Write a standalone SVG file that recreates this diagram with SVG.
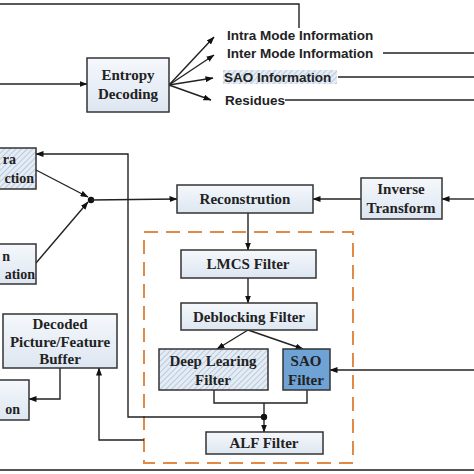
<svg xmlns="http://www.w3.org/2000/svg" width="474" height="474" viewBox="0 0 474 474">
<defs>
<linearGradient id="g" x1="0" y1="0" x2="0" y2="1">
<stop offset="0" stop-color="#F5F8FC"/>
<stop offset="1" stop-color="#DDE6F1"/>
</linearGradient>
<pattern id="hatch" width="4" height="4" patternUnits="userSpaceOnUse" patternTransform="rotate(45)">
<rect width="4" height="4" fill="#E4ECF5"/>
<line x1="0" y1="0" x2="0" y2="4" stroke="#9FB2C8" stroke-width="1.2"/>
</pattern>
<marker id="ah" markerWidth="8" markerHeight="6" refX="7.5" refY="3" orient="auto" markerUnits="userSpaceOnUse">
<path d="M0,0 L8,3 L0,6 z" fill="#111"/>
</marker>
<style>
.box{fill:url(#g);stroke:#333;stroke-width:1.5}
.hb{fill:url(#hatch);stroke:#333;stroke-width:1.5}
.t{font-family:"Liberation Serif","Times New Roman",serif;font-weight:bold;font-size:15px;fill:#222;text-anchor:middle}
.te{font-family:"Liberation Serif","Times New Roman",serif;font-weight:bold;font-size:14px;fill:#222;text-anchor:end}
.s{font-family:"Liberation Sans",Arial,sans-serif;font-weight:bold;font-size:13.5px;fill:#222}
.c{fill:none;stroke:#222;stroke-width:1.4}
.a{fill:none;stroke:#222;stroke-width:1.4;marker-end:url(#ah)}
</style>
</defs>
<rect width="474" height="474" fill="#fff"/>
<line x1="0" y1="470" x2="474" y2="470" stroke="#555" stroke-width="2"/>
<g id="group">
<rect x="144" y="232" width="209" height="231" fill="none" stroke="#E08A48" stroke-width="2" stroke-dasharray="14,8"/>
</g>
<g id="connectors">
<polyline class="c" points="0,4 299,4 299,28"/>
<line class="a" x1="0" y1="84" x2="87" y2="84"/>
<line class="a" x1="169" y1="85" x2="214" y2="37"/>
<line class="a" x1="169" y1="85" x2="214" y2="55"/>
<line class="a" x1="169" y1="85" x2="213" y2="78"/>
<line class="a" x1="169" y1="85" x2="211" y2="100"/>
<line class="c" x1="383" y1="53" x2="474" y2="53"/>
<line class="c" x1="338" y1="77" x2="474" y2="77"/>
<line class="c" x1="285" y1="100" x2="474" y2="100"/>
<polyline class="a" points="264,417 128,417 128,154 36,154"/>
<line class="a" x1="36" y1="170" x2="88" y2="197"/>
<line class="a" x1="36" y1="263" x2="88" y2="202"/>
<circle cx="91" cy="200" r="3.2" fill="#111"/>
<line class="a" x1="91" y1="200" x2="177" y2="199"/>
<line class="a" x1="474" y1="199" x2="442" y2="199"/>
<line class="a" x1="361" y1="199" x2="313" y2="199"/>
<line class="a" x1="248" y1="213" x2="248" y2="250"/>
<line class="a" x1="248" y1="278" x2="248" y2="303"/>
<line class="a" x1="248" y1="330" x2="217" y2="349"/>
<line class="a" x1="248" y1="330" x2="303" y2="349"/>
<polyline class="c" points="214,390 214,403 307,403 307,390"/>
<line class="a" x1="264" y1="403" x2="264" y2="432"/>
<circle cx="264" cy="417" r="3.2" fill="#111"/>
<line class="a" x1="474" y1="370" x2="330" y2="370"/>
<polyline class="a" points="144,440 99,440 99,368"/>
<polyline class="a" points="60,368 60,399 29,399"/>
</g>
<g id="entropy"><rect class="box" x="87" y="58" width="82" height="54"/><text class="t" x="128" y="80">Entropy</text><text class="t" x="128" y="99">Decoding</text></g>
<g id="labels">
<text class="s" x="227" y="40">Intra Mode Information</text>
<text class="s" x="227" y="58">Inter Mode Information</text>
<rect x="223" y="70" width="114" height="14" fill="url(#hatch)"/>
<text class="s" x="224" y="82">SAO Information</text>
<text class="s" x="225" y="105">Residues</text>
</g>
<g id="intra"><rect class="hb" x="-10" y="148" width="46" height="41"/><text class="te" x="16" y="164">ra</text><text class="te" x="34" y="183">ction</text></g>
<g id="inter"><rect class="box" x="-10" y="244" width="46" height="40"/><text class="te" x="10" y="261">n</text><text class="te" x="35" y="279">ation</text></g>
<g id="recon"><rect class="box" x="177" y="185" width="136" height="28"/><text class="t" x="245" y="204">Reconstrution</text></g>
<g id="inverse"><rect class="box" x="361" y="178" width="81" height="41"/><text class="t" x="401" y="194">Inverse</text><text class="t" x="401" y="213">Transform</text></g>
<g id="lmcs"><rect class="box" x="181" y="250" width="135" height="28"/><text class="t" x="248" y="269">LMCS Filter</text></g>
<g id="deblock"><rect class="box" x="181" y="303" width="136" height="27"/><text class="t" x="249" y="322">Deblocking Filter</text></g>
<g id="deep"><rect class="hb" x="159" y="349" width="109" height="41"/><text class="t" x="213" y="366">Deep Learing</text><text class="t" x="213" y="385">Filter</text></g>
<g id="sao"><rect x="283" y="349" width="47" height="41" fill="#6FA3D6" stroke="#333" stroke-width="1.5"/><text class="t" x="306" y="366">SAO</text><text class="t" x="306" y="385">Filter</text></g>
<g id="alf"><rect class="box" x="206" y="432" width="117" height="22"/><text class="t" x="264" y="448">ALF Filter</text></g>
<g id="dpb"><rect class="box" x="3" y="314" width="114" height="54"/><text class="t" x="60" y="329">Decoded</text><text class="t" x="60" y="347">Picture/Feature</text><text class="t" x="60" y="364">Buffer</text></g>
<g id="out"><rect class="box" x="-10" y="380" width="39" height="40"/><text class="te" x="20" y="414">on</text></g>
</svg>
